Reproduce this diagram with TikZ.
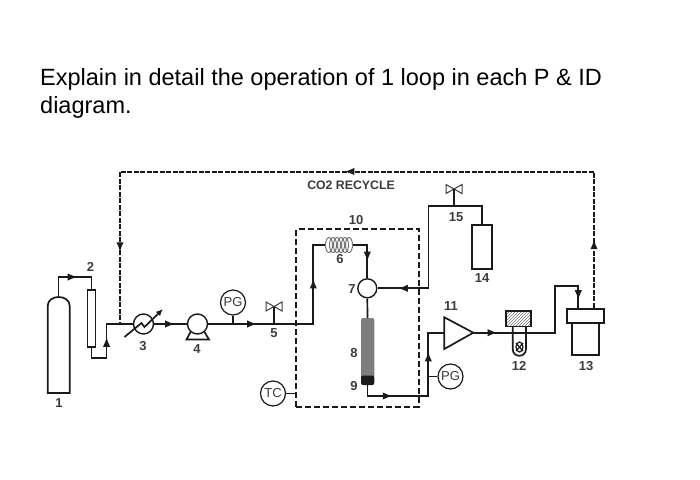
\documentclass[tikz,border=0pt]{standalone}
\usepackage{fontspec}
\usepackage{xcolor}
\setmainfont{Liberation Sans}
\usetikzlibrary{arrows.meta,decorations.markings,patterns,calc}
\definecolor{vblack}{HTML}{1A1A1A}
\definecolor{vgray}{HTML}{3C3C3C}
\definecolor{vcolumn}{HTML}{7E7E7E}
\tikzset{
	pipe/.style = {draw = vblack, line width = 1.7pt, line join = miter},
	recycle/.style = {pipe, line width = 2pt, dash pattern = on 5pt off 1.5pt},
	tipat/.style = {postaction = {decorate, decoration = {markings, mark = at position #1 with {\arrow{Latex[length = 10pt, width = 7.5pt]}}}}},
	tag/.style = {font = \fontsize{13}{13}\selectfont\bfseries, text = vgray, inner sep = 0pt},
	gauge/.style = {circle, draw = vblack, line width = 1.2pt, fill = white, minimum size = 25pt, inner sep = 0pt, font = \fontsize{13}{13}\selectfont, text = vgray},
	vessel/.style = {rectangle, draw = vblack, line width = 1.7pt, fill = white, inner sep = 0pt}
}

\begin{document}
\begin{tikzpicture}[x = 1pt, y = -1pt]
	\useasboundingbox (0,0) rectangle (700,479);
	% question
	\node[anchor = base west, inner sep = 0pt, font = \fontsize{23.5}{23.5}\selectfont] (line1) at (40,85) {Explain in detail the operation of 1 loop in each P \& ID};
	\node[anchor = base west, inner sep = 0pt, font = \fontsize{23.5}{23.5}\selectfont] (line2) at (40,113) {diagram.};
	% equipment
	\coordinate (cyl1top) at (58.5,297);
	\draw[pipe] (47.7,393) -- (47.7,306) .. controls (47.7,294) and (69.7,294) .. (69.7,306) -- (69.7,393) -- cycle;
	\node[vessel, minimum width = 8pt, minimum height = 57pt] (rot2) at (91.5,318.5) {};
	\node[circle, draw = vblack, line width = 1.4pt, minimum size = 20pt, inner sep = 0pt] (exch3) at (143.5,324) {};
	\node[circle, draw = vblack, line width = 1.4pt, minimum size = 20pt, inner sep = 0pt] (pump4) at (197.5,324) {};
	\draw[pipe] (190.5,332) -- (186.5,339.5) -- (209,339.5) -- (204.5,332);
	\node[gauge] (pg1) at (233,302.5) {PG};
	\node[gauge] (pg2) at (450.5,376.5) {PG};
	\node[gauge] (tc) at (273,393.5) {TC};
	\node[circle, draw = vblack, line width = 1.4pt, minimum size = 19pt, inner sep = 0pt] (valve7) at (367.3,288.3) {};
	\node[minimum width = 28pt, minimum height = 15pt, inner sep = 0pt] (coil6) at (339,245) {};
	\foreach \cx in {329,333,...,349}
		\draw[color = vgray!70, line width = 1pt] (\cx,245) ellipse (3.5 and 7.5);
	\node[vessel, minimum width = 20pt, minimum height = 43.5pt] (vessel14) at (481.7,247) {};
	\node[vessel, minimum width = 37pt, minimum height = 14.5pt] (lid13) at (585.5,316) {};
	\node[vessel, minimum width = 26.5pt, minimum height = 32pt] (vessel13) at (585.5,339.3) {};
	\coordinate (amp11in) at (444.3,332.7);
	\coordinate (amp11out) at (473.3,332.7);
	\draw[pipe] (amp11in |- 0,317.3) -- (amp11out) -- (amp11in |- 0,349) -- cycle;
	% column
	\coordinate (col8top) at (367.5,318);
	\coordinate (col8bot) at (367.5,385);
	\fill[vcolumn, rounded corners = 2pt] (361,318) rectangle (374.3,378);
	\fill[vblack, rounded corners = 2pt] (361,375.5) rectangle (374.3,385);
	% valves
	\foreach \vx/\vy/\vname in {274/306.5/valve5, 454/189/valve15} {
		\coordinate (\vname) at (\vx,\vy);
		\draw[color = vgray, line width = 1pt] (\vx,\vy) -- ++(-8,-4.5) -- ++(0,9) -- cycle;
		\draw[color = vgray, line width = 1pt] (\vx,\vy) -- ++(8,-4.5) -- ++(0,9) -- cycle;
	}
	% reactor 12
	\draw[pipe] (512.7,326) -- (512.7,349) .. controls (512.7,358) and (526,358) .. (526,349) -- (526,326);
	\draw[vblack, line width = 1.2pt] (516,343) -- (523,351) (523,343) -- (516,351);
	\draw[vblack, line width = 1.2pt] (519.5,347) ellipse (3.5 and 5);
	\node[vessel, pattern = north east lines, pattern color = vgray!70, minimum width = 25pt, minimum height = 15.5pt] (block12) at (518.8,318.8) {};
	% pipes
	\draw[pipe, tipat = .6] (cyl1top) -- ++(0,-20) -| (rot2.north);
	\draw[pipe, tipat = .54] (rot2.south) -- ++(0,10) -| ($(exch3.west)+(-26.2,0)$) -- (exch3.west);
	\draw[pipe, tipat = .64] (exch3.east) -- (pump4.west);
	\draw[pipe, -{Latex[length = 7pt, width = 6pt]}] ($(exch3)+(-19,13)$) -- ($(exch3)+(-2,-1)$) -- ($(exch3)+(1,3)$) -- ($(exch3)+(19.5,-15)$);
	\draw[pipe, tipat = .25, tipat = .77] (pump4.east) -| (313.3,245) -- (coil6.west);
	\draw[pipe, tipat = .65] (coil6.east) -| (valve7.north);
	\draw[pipe, tipat = .9] (vessel14.north) |- (428.5,206) |- (valve7.east);
	\draw[pipe] (valve7.south) -- (col8top);
	\draw[pipe, tipat = .24, tipat = .77] (col8bot) |- (428.3,396) |- (amp11in);
	\draw[pipe] (pg2.west) -- (pg2.west -| 428.3,0);
	\draw[pipe] (tc.east) -- ++(10.5,0) coordinate (tcend);
	\draw[pipe] (pg1.south) -- (pg1.south |- pump4);
	\draw[pipe] (valve5) -- (valve5 |- pump4);
	\draw[pipe] (valve15) -- (valve15 |- 0,206);
	\draw[pipe, tipat = .14, tipat = .955] (amp11out) -| (555.3,286.3) -| (lid13.north -| 578.3,0);
	\draw[recycle, tipat = .09, tipat = .506, tipat = .906] (lid13.north -| 594,0) |- (120,171.5) -- (120,324);
	% heated zone
	\node[draw = vblack, line width = 1.9pt, dash pattern = on 6pt off 3pt, minimum width = 122.4pt, minimum height = 177.4pt, inner sep = 0pt] (zone10) at (357.5,318) {};
	% labels
	\foreach \tx/\ty/\tlabel/\tname in {59/403/1/tag1, 90.5/267/2/tag2, 143/346/3/tag3, 197/349/4/tag4, 274/333/5/tag5, 340/259/6/tag6, 352/289/7/tag7, 354/353/8/tag8, 354/386/9/tag9, 356/220/10/tag10, 451/306/11/tag11, 519/366/12/tag12, 586/366/13/tag13, 482/278/14/tag14, 456/217/15/tag15}
		\node[tag] (\tname) at (\tx,\ty) {\tlabel};
	\node[tag, font = \fontsize{12.3}{12.3}\selectfont\bfseries] (recyclelabel) at (351,185) {CO2 RECYCLE};
\end{tikzpicture}
\end{document}
